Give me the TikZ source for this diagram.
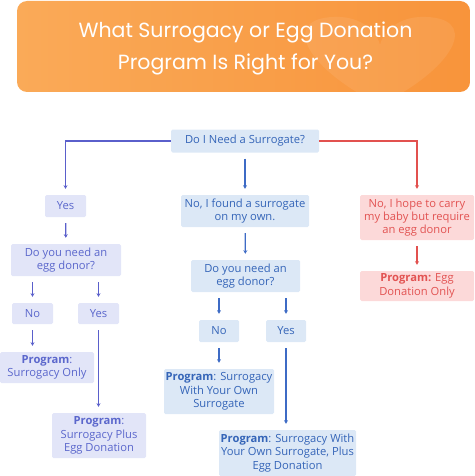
\documentclass[tikz,border=0pt]{standalone}
\usepackage{fontspec}
\setmainfont{Open Sans}
\newfontfamily\titlefont{Poppins}
\usetikzlibrary{arrows.meta,positioning}

\definecolor{midline}{HTML}{3E6BC5}
\definecolor{midtext}{HTML}{3565B8}
\definecolor{midfill}{HTML}{DCE8F6}
\definecolor{leftline}{HTML}{5A5FCB}
\definecolor{lefttext}{HTML}{5B67CC}
\definecolor{leftfill}{HTML}{E2E5F8}
\definecolor{redline}{HTML}{E2514F}
\definecolor{redtext}{HTML}{E25352}
\definecolor{redfill}{HTML}{FCD9D9}
\definecolor{titleL}{HTML}{FAAA58}
\definecolor{titleR}{HTML}{F8943B}

\begin{document}
\begin{tikzpicture}[
    x=1pt, y=-1pt,
    box/.style={align=center, inner sep=0pt, rounded corners=1.5pt, font=\fontsize{11.2}{13.4}\selectfont},
    midbox/.style={box, fill=midfill, text=midtext},
    leftbox/.style={box, fill=leftfill, text=lefttext},
    redbox/.style={box, fill=redfill, text=redtext},
    arr/.style={line width=1.2pt, -{Stealth[length=3.6pt,width=4pt]}},
    midarr/.style={arr, draw=midline},
    leftarr/.style={arr, draw=leftline},
    redarr/.style={arr, draw=redline},
    gap/.style={shorten <=6pt, shorten >=6pt}
  ]
    \useasboundingbox (0,0) rectangle (474,476);

    % Title banner
    \begin{scope}
      \clip[rounded corners=10pt] (17,1) rectangle (470,92);
      \shade[left color=titleL, right color=titleR] (17,1) rectangle (470,92);
      \fill[white, opacity=0.08] (380,105) .. controls (300,65) and (280,15) .. (340,17)
        .. controls (365,18) and (378,35) .. (380,45) .. controls (382,35) and (395,18) .. (420,17)
        .. controls (480,15) and (460,65) .. (380,105);
    \end{scope}
    \node[text=white, align=center, font=\titlefont\fontsize{20.5}{32}\selectfont] (title) at (245.5,48)
      {What Surrogacy or Egg Donation\\Program Is Right for You?};

    % Middle column
    \node[midbox, minimum width=148pt, minimum height=23pt] (ask) at (245,141) {Do I Need a Surrogate?};
    \node[midbox, minimum width=128pt, minimum height=32pt] (found) at (245,211) {No, I found a surrogate\\on my own.};
    \node[midbox, minimum width=109pt, minimum height=32pt] (egg2) at (245.5,276) {Do you need an\\egg donor?};
    \node[midbox, minimum width=40pt, minimum height=22pt] (no2) at (219,331) {No};
    \node[midbox, minimum width=40pt, minimum height=22pt] (yes2) at (286,331) {Yes};
    \node[midbox, minimum width=110pt, minimum height=45pt] (own) at (219,391.5)
      {\textbf{Program}: Surrogacy\\With Your Own\\Surrogate};
    \node[midbox, minimum width=137pt, minimum height=46pt] (plus2) at (287.5,453)
      {\textbf{Program}: Surrogacy With\\Your Own Surrogate, Plus\\Egg Donation};

    % Left column
    \node[leftbox, minimum width=41pt, minimum height=22pt] (yes1) at (65.5,206) {Yes};
    \node[leftbox, minimum width=110pt, minimum height=32pt] (egg1) at (66,260) {Do you need an\\egg donor?};
    \node[leftbox, minimum width=41pt, minimum height=21pt] (no1) at (32.5,313.5) {No};
    \node[leftbox, minimum width=41pt, minimum height=21pt] (yes1b) at (98.5,313.5) {Yes};
    \node[leftbox, minimum width=94pt, minimum height=31pt] (only1) at (47,367.5)
      {\textbf{Program}:\\Surrogacy Only};
    \node[leftbox, minimum width=94pt, minimum height=45pt] (plus1) at (99,435.5)
      {\textbf{Program}:\\Surrogacy Plus\\Egg Donation};

    % Right column
    \node[redbox, minimum width=114pt, minimum height=45pt] (carry) at (417,217.5)
      {No, I hope to carry\\my baby but require\\an egg donor};
    \node[redbox, minimum width=114pt, minimum height=30pt] (eggonly) at (417,286)
      {\textbf{Program:} Egg\\Donation Only};

    % Arrows middle
    \draw[midarr, gap] (ask) -- (found);
    \draw[midarr, gap] (found) -- (egg2);
    \draw[midarr, gap] (no2.north |- egg2.south) -- (no2.north);
    \draw[midarr, gap] (yes2.north |- egg2.south) -- (yes2.north);
    \draw[midarr, gap] (no2) -- (no2.south |- own.north);
    \draw[midarr, gap] (yes2.south) -- (yes2.south |- plus2.north);

    % Arrows left
    \draw[leftarr, shorten >=6pt] (ask.west) -| (yes1.north);
    \draw[leftarr, gap] (yes1) -- (egg1);
    \draw[leftarr, gap] (no1.north |- egg1.south) -- (no1.north);
    \draw[leftarr, gap] (yes1b.north |- egg1.south) -- (yes1b.north);
    \draw[leftarr, gap] (no1.south) -- (no1.south |- only1.north);
    \draw[leftarr, gap] (yes1b.south) -- (yes1b.south |- plus1.north);

    % Arrows right
    \draw[redarr, shorten >=6pt] (ask.east) -| (carry.north);
    \draw[redarr, gap] (carry) -- (eggonly);
  \end{tikzpicture}
\end{document}
